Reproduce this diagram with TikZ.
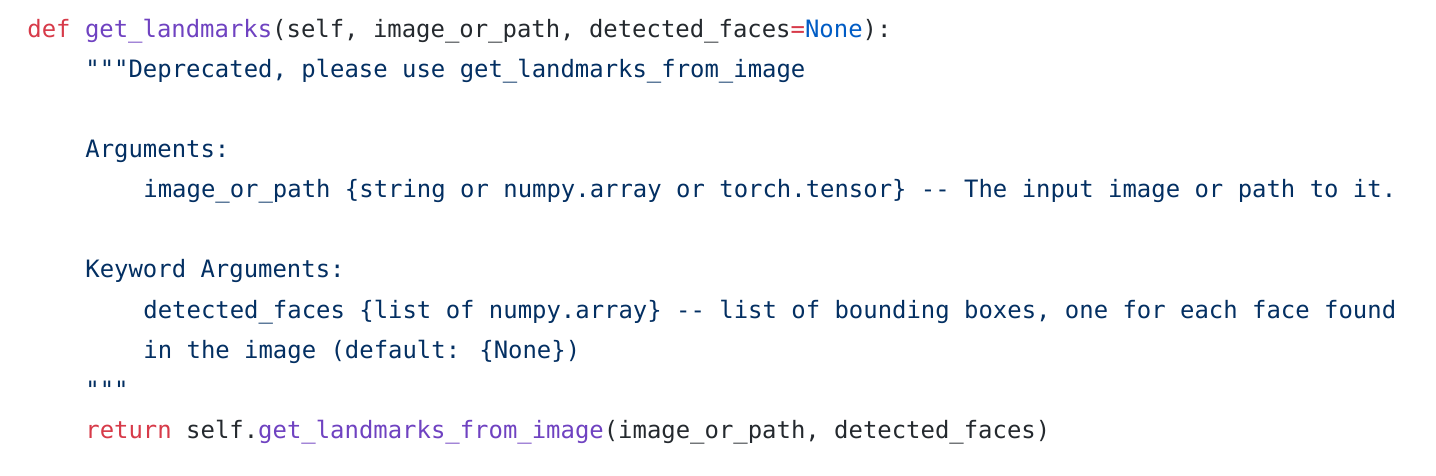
\documentclass[tikz,border=0pt]{standalone}
\usepackage{fontspec}
\newfontfamily\code{DejaVu Sans Mono}[Ligatures=NoCommon]
\definecolor{kw}{HTML}{D73A49}
\definecolor{fn}{HTML}{6F42C1}
\definecolor{cst}{HTML}{005CC5}
\definecolor{str}{HTML}{032F62}
\definecolor{txt}{HTML}{24292E}
\begin{document}
\begin{tikzpicture}[x=0.5pt,y=-0.5pt,
  ln/.style={anchor=base west,inner sep=0pt,font=\code\fontsize{11.96}{14}\selectfont,text=txt}]
\useasboundingbox[fill=white] (0,0) rectangle (1436,476);
\node[ln] (l1) at (27,38) {\textcolor{kw}{def} \textcolor{fn}{get\_landmarks}(self, image\_or\_path, detected\_faces\textcolor{kw}{=}\textcolor{cst}{None}):};
\node[ln,text=str] (l2) at (85,78) {"""Deprecated, please use get\_landmarks\_from\_image};
\node[ln,text=str] (l3) at (85,158) {Arguments:};
\node[ln,text=str] (l4) at (143,198) {image\_or\_path \{string or numpy.array or torch.tensor\} -{}- The input image or path to it.};
\node[ln,text=str] (l5) at (85,278) {Keyword Arguments:};
\node[ln,text=str] (l6) at (143,318) {detected\_faces \{list of numpy.array\} -{}- list of bounding boxes, one for each face found};
\node[ln,text=str] (l7) at (143,358) {in the image (default: \{None\})};
\node[ln,text=str] (l8) at (85,398) {"""};
\node[ln] (l9) at (85,438) {\textcolor{kw}{return} self.\textcolor{fn}{get\_landmarks\_from\_image}(image\_or\_path, detected\_faces)};
\end{tikzpicture}
\end{document}
